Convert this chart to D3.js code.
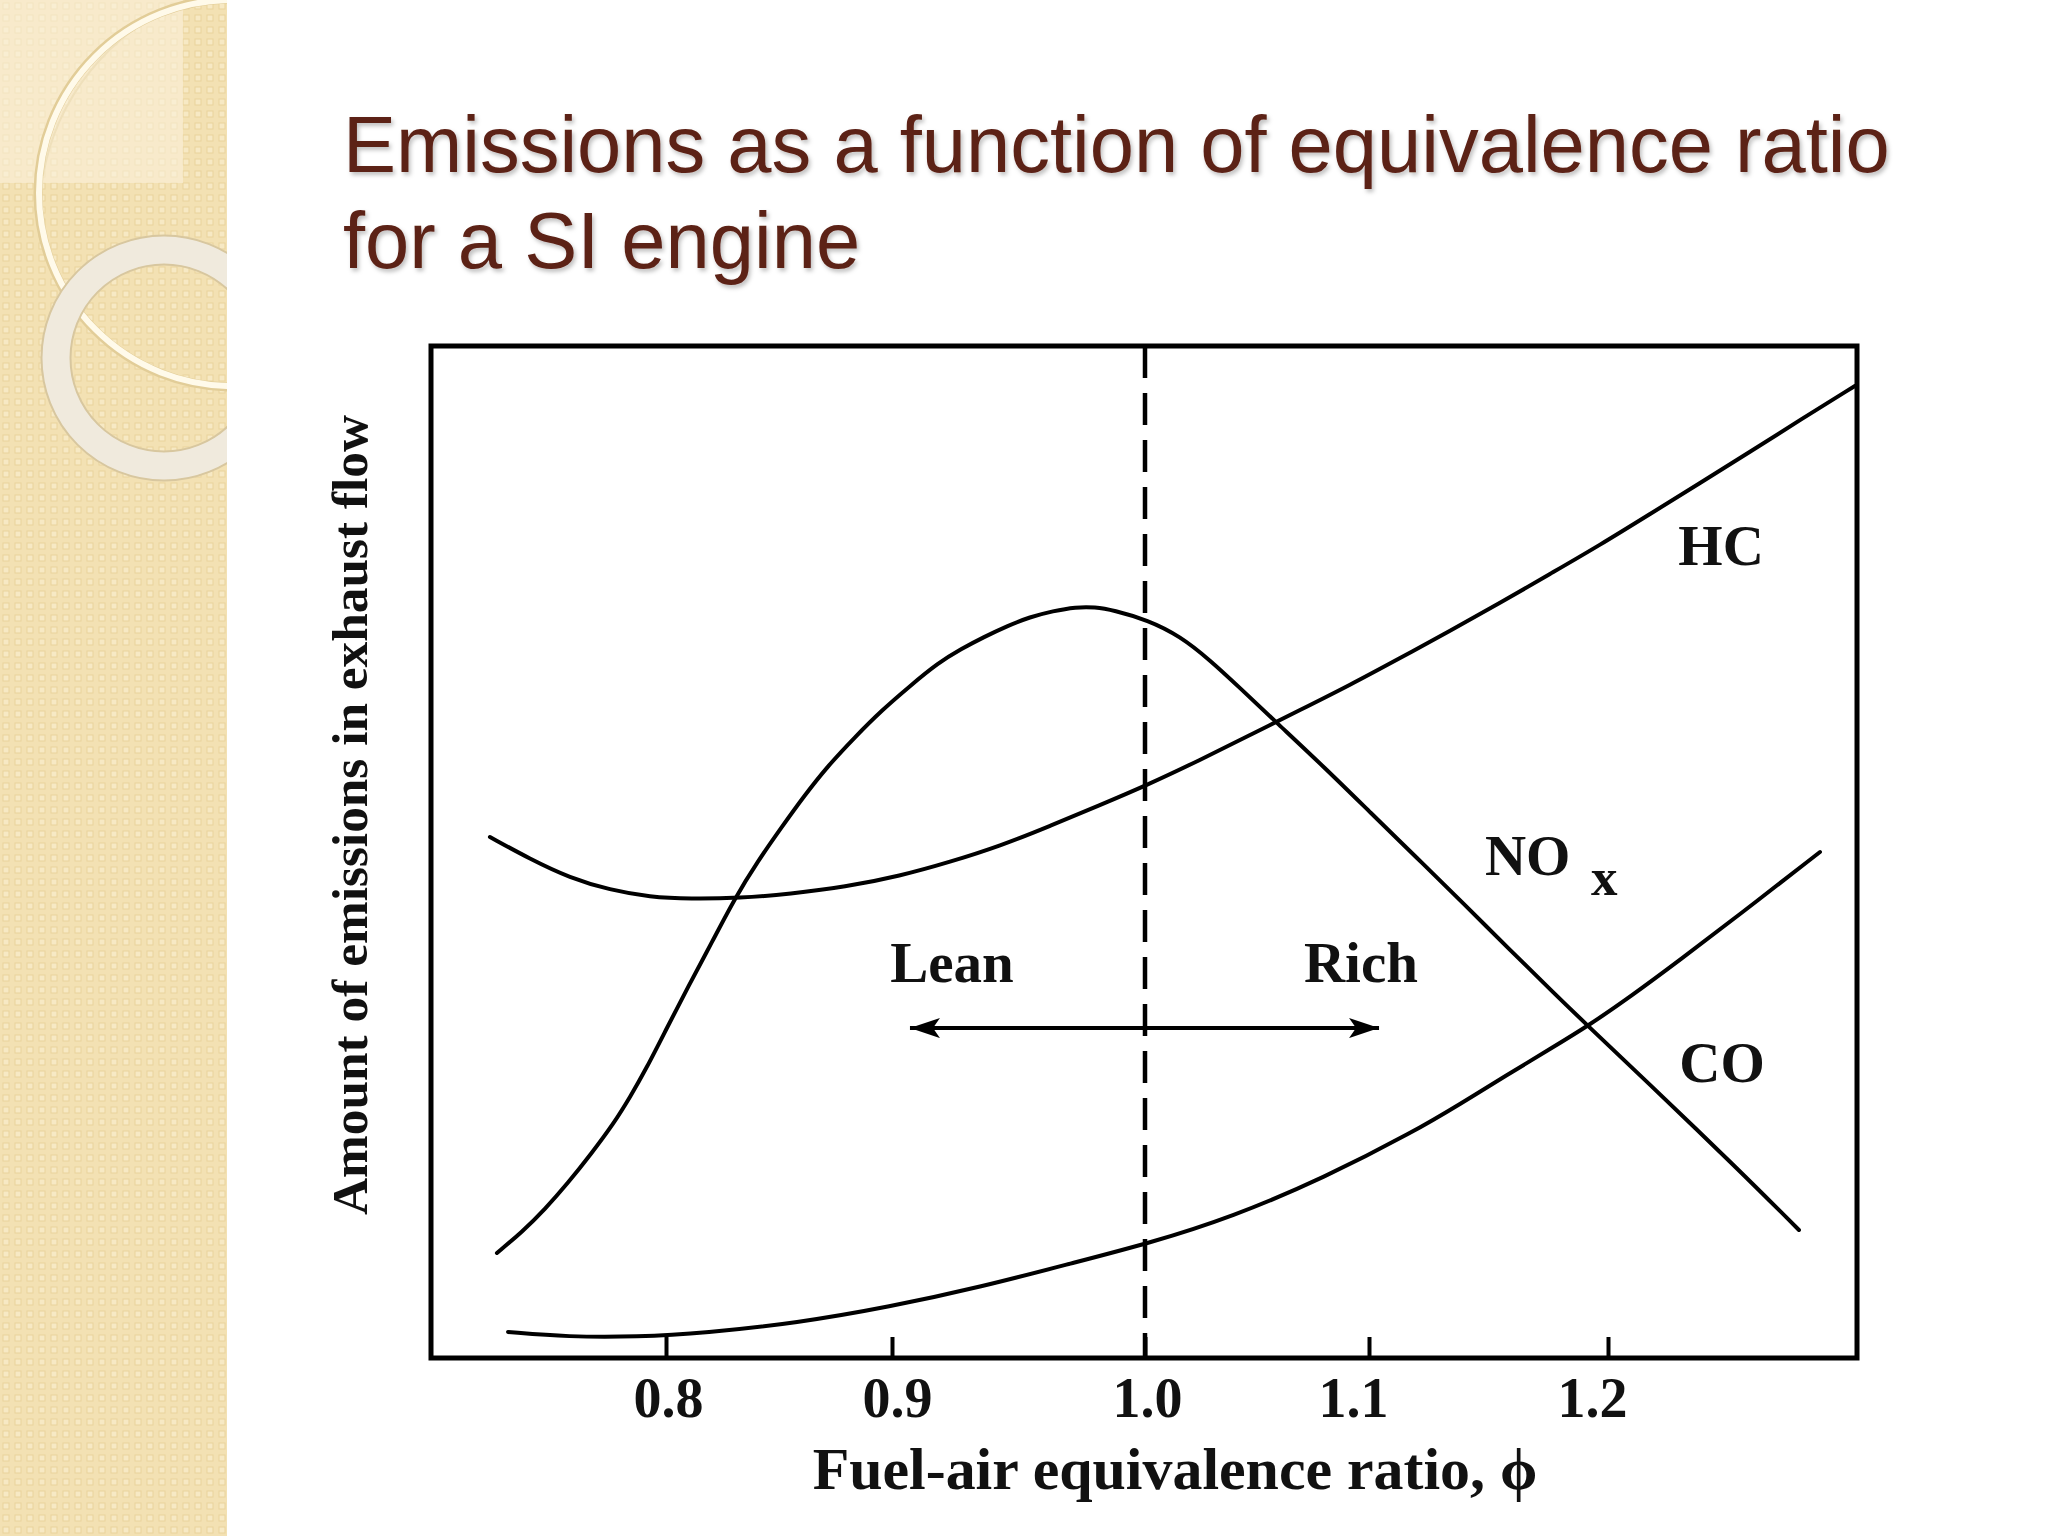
<!DOCTYPE html>
<html>
<head>
<meta charset="utf-8">
<script src="https://cdn.jsdelivr.net/npm/d3@7"></script>
<style>
  html, body { margin: 0; padding: 0; background: #ffffff; }
  svg { display: block; }
</style>
</head>
<body>
<svg id="chart" width="2048" height="1536"></svg>
<script>
// ---------------- DATA ----------------
const titleLines = ["Emissions as a function of equivalence ratio", "for a SI engine"];
const xAxisTitle = "Fuel-air equivalence ratio, \u03D5";
const yAxisTitle = "Amount of emissions in exhaust flow";
const phiTicks = [0.8, 0.9, 1.0, 1.1, 1.2];
const phiTickLabels = ["0.8", "0.9", "1.0", "1.1", "1.2"];

const hcPhi = [0.7221, 0.7398, 0.7575, 0.7752, 0.7929, 0.8106, 0.8327, 0.8549, 0.8792, 0.9032, 0.9229, 0.9427, 0.9625, 0.9822, 1.0, 1.0246, 1.0469, 1.0692, 1.0915, 1.1130, 1.1339, 1.1548, 1.1757, 1.1967, 1.2176, 1.2385, 1.2594, 1.2803, 1.3033];
const hcVal = [51.48, 49.31, 47.43, 46.25, 45.55, 45.36, 45.45, 45.85, 46.54, 47.63, 49.01, 50.59, 52.57, 54.64, 56.52, 59.09, 61.56, 64.03, 66.50, 69.17, 71.84, 74.60, 77.47, 80.34, 83.40, 86.46, 89.53, 92.69, 96.05];

const noxPhi = [0.7252, 0.7363, 0.7465, 0.7566, 0.7668, 0.7770, 0.7841, 0.7912, 0.8004, 0.8097, 0.8204, 0.8305, 0.8407, 0.8509, 0.8611, 0.8712, 0.8836, 0.8956, 0.9071, 0.9182, 0.9273, 0.9364, 0.9455, 0.9545, 0.9636, 0.9727, 0.9802, 0.9874, 1.0013, 1.0156, 1.0290, 1.0424, 1.0589, 1.0804, 1.1008, 1.1201, 1.1393, 1.1586, 1.1778, 1.1916, 1.2155, 1.2540, 1.2799];
const noxVal = [10.38, 12.45, 14.72, 17.29, 20.16, 23.22, 25.79, 28.56, 32.61, 36.66, 41.11, 45.45, 49.11, 52.37, 55.53, 58.40, 61.36, 64.03, 66.40, 68.68, 70.06, 71.25, 72.33, 73.22, 73.81, 74.21, 74.21, 73.91, 72.92, 71.34, 68.97, 66.21, 62.75, 58.30, 53.85, 49.41, 44.96, 40.42, 35.97, 32.81, 27.47, 18.77, 12.65];

const coPhi = [0.7301, 0.7566, 0.7872, 0.8173, 0.8580, 0.8987, 0.9352, 0.9715, 1.0022, 1.0388, 1.0799, 1.1192, 1.1381, 1.1577, 1.1757, 1.1916, 1.2092, 1.2301, 1.2548, 1.2887];
const coVal = [2.57, 2.08, 2.08, 2.47, 3.46, 5.04, 7.02, 9.39, 11.36, 13.93, 17.79, 22.43, 25.10, 27.96, 30.53, 32.81, 35.67, 39.33, 43.77, 50.00];

const stoichPhi = 1.0;
const leanRichArrowPhi = [0.9071, 1.1042];
const leanRichArrowVal = 32.6;

const curveLabels = ["HC", "NO", "CO"];
const curveLabelPhi = [1.2473, 1.1485, 1.2477];
const curveLabelVal = [78.4, 47.7, 27.3];
const noxSubscript = "x";
const regionLabels = ["Lean", "Rich"];
const regionLabelPhi = [0.9237, 1.0964];
const regionLabelVal = 37.2;

// ---------------- LAYOUT ----------------
const W = 2048, H = 1536;
const plot = { left: 431, right: 1857, top: 346, bottom: 1358 };
// the hand-drawn axis has slightly uneven tick spacing: piecewise-linear scale through the tick marks
const tickPixels = [666, 892, 1145, 1369, 1608];
const serif = "'Liberation Serif', 'Times New Roman', 'DejaVu Serif', serif";
const sans = "'Liberation Sans', Arial, Helvetica, sans-serif";

const svg = d3.select("#chart");
const defs = svg.append("defs");

// sidebar pattern
const pat = defs.append("pattern").attr("id", "dots").attr("patternUnits", "userSpaceOnUse")
  .attr("width", 12).attr("height", 12);
pat.append("rect").attr("width", 12).attr("height", 12).attr("fill", "#f3e1b3");
pat.append("rect").attr("x", 3).attr("y", 3).attr("width", 6).attr("height", 6)
  .attr("fill", "#f7e9c4").attr("stroke", "#ead39c").attr("stroke-width", 1);

defs.append("clipPath").attr("id", "sideClip").append("rect")
  .attr("x", 0).attr("y", 0).attr("width", 227).attr("height", H);

const sh = defs.append("filter").attr("id", "tshadow").attr("x", "-5%").attr("y", "-20%")
  .attr("width", "110%").attr("height", "140%");
sh.append("feDropShadow").attr("dx", 2).attr("dy", 3).attr("stdDeviation", 2)
  .attr("flood-color", "#000").attr("flood-opacity", 0.25);

defs.append("marker").attr("id", "ahead").attr("viewBox", "0 0 30 20")
  .attr("refX", 30).attr("refY", 10).attr("markerWidth", 30).attr("markerHeight", 20)
  .attr("markerUnits", "userSpaceOnUse").attr("orient", "auto-start-reverse")
  .append("path").attr("d", "M0,0 L30,10 L0,20 L7,10 Z").attr("fill", "#000");

// background
svg.append("rect").attr("width", W).attr("height", H).attr("fill", "#ffffff");
const side = svg.append("g").attr("clip-path", "url(#sideClip)");
side.append("rect").attr("width", 227).attr("height", H).attr("fill", "url(#dots)");
side.append("rect").attr("x", 0).attr("y", 0).attr("width", 183).attr("height", 183)
  .attr("fill", "#fbf3df").attr("opacity", 0.55);
side.append("path").attr("d", "M43,176 A230,230 0 0 1 183,2")
  .attr("fill", "none").attr("stroke", "#efe0bb").attr("stroke-width", 2);
side.append("circle").attr("cx", 232).attr("cy", 193).attr("r", 194)
  .attr("fill", "none").attr("stroke", "#e2cd98").attr("stroke-width", 9);
side.append("circle").attr("cx", 232).attr("cy", 193).attr("r", 193)
  .attr("fill", "none").attr("stroke", "#fffaea").attr("stroke-width", 6);
side.append("circle").attr("cx", 164).attr("cy", 358).attr("r", 108)
  .attr("fill", "none").attr("stroke", "#d8c79f").attr("stroke-width", 31);
side.append("circle").attr("cx", 164).attr("cy", 358).attr("r", 108)
  .attr("fill", "none").attr("stroke", "#f1ece0").attr("stroke-width", 27).attr("opacity", 0.95);

// title
const titleG = svg.append("g").attr("filter", "url(#tshadow)");
const titleBaselines = [172, 268];
titleLines.forEach((t, i) => {
  titleG.append("text").attr("x", 343).attr("y", titleBaselines[i])
    .attr("font-family", sans).attr("font-size", 79.5).attr("fill", "#5c2116").text(t);
});

// scales
const x = d3.scaleLinear().domain(phiTicks).range(tickPixels);
const y = d3.scaleLinear().domain([0, 100]).range([plot.bottom, plot.top]);

// curves
const line = d3.line().x(d => x(d[0])).y(d => y(d[1])).curve(d3.curveBasis);
const series = [
  d3.zip(hcPhi, hcVal),
  d3.zip(noxPhi, noxVal),
  d3.zip(coPhi, coVal)
];
svg.append("g").selectAll("path").data(series).join("path")
  .attr("d", line).attr("fill", "none").attr("stroke", "#000")
  .attr("stroke-width", 4).attr("stroke-linejoin", "round").attr("stroke-linecap", "round");

// stoichiometric dashed line
svg.append("line").attr("x1", x(stoichPhi)).attr("x2", x(stoichPhi))
  .attr("y1", plot.top).attr("y2", plot.bottom)
  .attr("stroke", "#000").attr("stroke-width", 4.5).attr("stroke-dasharray", "32 15");

// axis ticks
const xAxis = d3.axisBottom(x).tickValues(phiTicks)
  .tickFormat((d, i) => phiTickLabels[i]).tickSizeInner(-21).tickSizeOuter(0);
const ax = svg.append("g").attr("transform", `translate(0,${plot.bottom})`).call(xAxis);
ax.select(".domain").remove();
ax.selectAll(".tick line").attr("stroke", "#000").attr("stroke-width", 4);
ax.selectAll(".tick text").attr("font-family", serif).attr("font-weight", "bold")
  .attr("font-size", 56).attr("fill", "#111").attr("y", 59).attr("dy", 0)
  .attr("dx", (d, i) => i >= 3 ? -16 : (i === 1 ? 5 : 2));

// frame
svg.append("rect").attr("x", plot.left).attr("y", plot.top)
  .attr("width", plot.right - plot.left).attr("height", plot.bottom - plot.top)
  .attr("fill", "none").attr("stroke", "#000").attr("stroke-width", 5);

// arrow
svg.append("line").attr("x1", x(leanRichArrowPhi[0])).attr("x2", x(leanRichArrowPhi[1]))
  .attr("y1", y(leanRichArrowVal)).attr("y2", y(leanRichArrowVal))
  .attr("stroke", "#000").attr("stroke-width", 4)
  .attr("marker-start", "url(#ahead)").attr("marker-end", "url(#ahead)");

// labels
const lab = svg.append("g").attr("font-family", serif).attr("font-weight", "bold").attr("fill", "#111");
curveLabels.forEach((t, i) => {
  lab.append("text").attr("x", x(curveLabelPhi[i])).attr("y", y(curveLabelVal[i]))
    .attr("text-anchor", i === 1 ? "start" : "middle").attr("font-size", 57).text(t);
});
lab.append("text").attr("x", x(curveLabelPhi[1]) + 106).attr("y", y(curveLabelVal[1]) + 20)
  .attr("font-size", 53).text(noxSubscript);
regionLabels.forEach((t, i) => {
  lab.append("text").attr("x", x(regionLabelPhi[i])).attr("y", y(regionLabelVal))
    .attr("text-anchor", "middle").attr("font-size", 57).text(t);
});

// axis titles (fit to measured widths)
function fit(sel, target) {
  const w = sel.node().getComputedTextLength();
  const fs = parseFloat(sel.attr("font-size"));
  sel.attr("font-size", fs * target / w);
}
const xt = svg.append("text").attr("x", 1175).attr("y", 1489).attr("text-anchor", "middle")
  .attr("font-family", serif).attr("font-weight", "bold").attr("font-size", 48).attr("fill", "#111")
  .text(xAxisTitle);
fit(xt, 725);
const yt = svg.append("text").attr("transform", "translate(367,815) rotate(-90)")
  .attr("text-anchor", "middle")
  .attr("font-family", serif).attr("font-weight", "bold").attr("font-size", 50).attr("fill", "#111")
  .text(yAxisTitle);
fit(yt, 800);
</script>
</body>
</html>
